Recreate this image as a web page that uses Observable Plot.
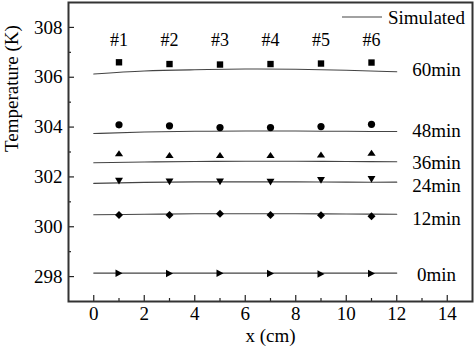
<!DOCTYPE html>
<html>
<head>
<meta charset="utf-8">
<script src="https://cdn.jsdelivr.net/npm/d3@7"></script>
<script src="https://cdn.jsdelivr.net/npm/@observablehq/plot@0.6"></script>
<style>
  html, body { margin: 0; padding: 0; background: #fff; }
  #chart svg { display: block; }
</style>
</head>
<body>
<div id="chart"></div>
<script>
// Probe positions (cm) and labels
const probeX = [1, 3, 5, 7, 9, 11];
const probeLabels = ["#1", "#2", "#3", "#4", "#5", "#6"];

// Measured temperatures (K) at each probe
const meas0  = [298.13, 298.12, 298.13, 298.12, 298.10, 298.12];
const meas12 = [300.47, 300.47, 300.52, 300.47, 300.46, 300.42];
const meas24 = [301.83, 301.80, 301.80, 301.79, 301.86, 301.90];
const meas36 = [302.95, 302.88, 302.88, 302.88, 302.90, 302.97];
const meas48 = [304.09, 304.05, 303.98, 303.98, 304.02, 304.11];
const meas60 = [306.60, 306.53, 306.51, 306.53, 306.55, 306.59];

// Simulated profiles
const simX   = [0, 2, 4, 6, 8, 10, 12];
const sim0   = [298.14, 298.14, 298.14, 298.14, 298.14, 298.14, 298.14];
const sim12  = [300.48, 300.50, 300.52, 300.52, 300.52, 300.51, 300.50];
const sim24  = [301.74, 301.78, 301.80, 301.80, 301.80, 301.79, 301.79];
const sim36  = [302.57, 302.60, 302.62, 302.63, 302.63, 302.62, 302.61];
const sim48  = [303.74, 303.80, 303.83, 303.84, 303.84, 303.83, 303.82];
const sim60  = [306.13, 306.25, 306.30, 306.33, 306.32, 306.28, 306.22];

// Time labels and the temperature at which each sits
const timeLabels = ["0min", "12min", "24min", "36min", "48min", "60min"];
const timeLabelT = [298.05, 300.32, 301.63, 302.55, 303.84, 306.30];

// Axis ticks
const xMajor = [0, 2, 4, 6, 8, 10, 12, 14];
const xMinor = [1, 3, 5, 7, 9, 11, 13];
const yMajor = [298, 300, 302, 304, 306, 308];
const yMinor = [299, 301, 303, 305, 307];

// Custom symbols
const triUp = {draw(ctx, size) { const r = Math.sqrt(size / Math.PI); const w = 1.15 * r, h = 1.7 * r;
  ctx.moveTo(-w, h / 2); ctx.lineTo(w, h / 2); ctx.lineTo(0, -h / 2); ctx.closePath(); }};
const triDown = {draw(ctx, size) { const r = Math.sqrt(size / Math.PI); const w = 1.1 * r, h = 1.9 * r;
  ctx.moveTo(-w, -h / 2); ctx.lineTo(w, -h / 2); ctx.lineTo(0, h / 2); ctx.closePath(); }};
const triRight = {draw(ctx, size) { const r = Math.sqrt(size / Math.PI); const w = 1.05 * r, h = 1.95 * r;
  ctx.moveTo(-h / 2, -w); ctx.lineTo(h / 2, 0); ctx.lineTo(-h / 2, w); ctx.closePath(); }};

const measured = [meas0, meas12, meas24, meas36, meas48, meas60];
const simulated = [sim0, sim12, sim24, sim36, sim48, sim60];
const symbols = [triRight, "diamond2", triDown, triUp, "circle", "square"];

const W = 474, H = 351;
const mL = 68, mT = 2, mR = 2, mB = 50;
const frameW = W - mL - mR, frameH = H - mT - mB;
const fontA = "Times New Roman";
const fontB = "serif";
const fontC = "Liberation Serif";

const marks = [];
// Tick marks (inward)
marks.push(Plot.ruleX(xMajor, {x: d => d, insetTop: frameH - 6, stroke: "#222", strokeWidth: 1.2}));
marks.push(Plot.ruleX(xMinor, {x: d => d, insetTop: frameH - 3, stroke: "#222", strokeWidth: 1.2}));
marks.push(Plot.ruleY(yMajor, {y: d => d, insetRight: frameW - 6, stroke: "#222", strokeWidth: 1.2}));
marks.push(Plot.ruleY(yMinor, {y: d => d, insetRight: frameW - 3, stroke: "#222", strokeWidth: 1.2}));

marks.push(Plot.axisX({ticks: xMajor, tickSize: 0, tickPadding: 5, label: null, fontSize: 19, fontFamily: fontA}));
marks.push(Plot.axisY({ticks: yMajor, tickSize: 0, tickPadding: 6, label: null, fontSize: 19, fontFamily: fontA}));

simulated.forEach((s) => {
  marks.push(Plot.line(simX.map((x, i) => ({x, T: s[i]})), {x: "x", y: "T", stroke: "#444", strokeWidth: 1.1, curve: "natural"}));
});
measured.forEach((m, k) => {
  marks.push(Plot.dot(probeX.map((x, i) => ({x, T: m[i]})), {x: "x", y: "T", symbol: symbols[k], r: 3.6, fill: "black", stroke: "none"}));
});

// probe labels
marks.push(Plot.text(probeLabels, {x: (d, i) => probeX[i], text: d => d, frameAnchor: "top", dy: 38, lineAnchor: "middle", fontSize: 18, fontFamily: fontB}));
// time labels
marks.push(Plot.text(timeLabels, {y: (d, i) => timeLabelT[i], text: d => d, frameAnchor: "right", dx: -36, textAnchor: "middle", lineAnchor: "middle", fontSize: 19, fontFamily: fontB}));

// axis titles
marks.push(Plot.text(["x (cm)"], {text: d => d, frameAnchor: "bottom", dy: 34, lineAnchor: "middle", fontSize: 19, fontFamily: fontC}));
marks.push(Plot.text(["Temperature (K)"], {text: d => d, frameAnchor: "left", dx: -57, rotate: -90, lineAnchor: "middle", fontSize: 19, fontFamily: fontC}));

marks.push(Plot.frame({stroke: "#333", strokeWidth: 2}));

const plot = Plot.plot({
  width: W, height: H,
  marginLeft: mL, marginTop: mT, marginRight: mR, marginBottom: mB,
  style: {background: "white", color: "black"},
  x: {domain: [-1, 15]},
  y: {domain: [297, 309]},
  marks
});

// Legend (static markup string inserted)
const NS = "http://www.w3.org/2000/svg";
const legendLine = document.createElementNS(NS, "line");
legendLine.setAttribute("x1", 342); legendLine.setAttribute("x2", 382);
legendLine.setAttribute("y1", 17); legendLine.setAttribute("y2", 17);
legendLine.setAttribute("stroke", "#444"); legendLine.setAttribute("stroke-width", 1.1);
plot.appendChild(legendLine);
const legendText = document.createElementNS(NS, "text");
legendText.setAttribute("x", 388); legendText.setAttribute("y", 24);
legendText.setAttribute("text-anchor", "start");
legendText.setAttribute("style", "font-family: 'Liberation Serif'; font-size: 19px;");
legendText.textContent = "Simulated";
plot.appendChild(legendText);

document.getElementById("chart").appendChild(plot);
</script>
</body>
</html>
